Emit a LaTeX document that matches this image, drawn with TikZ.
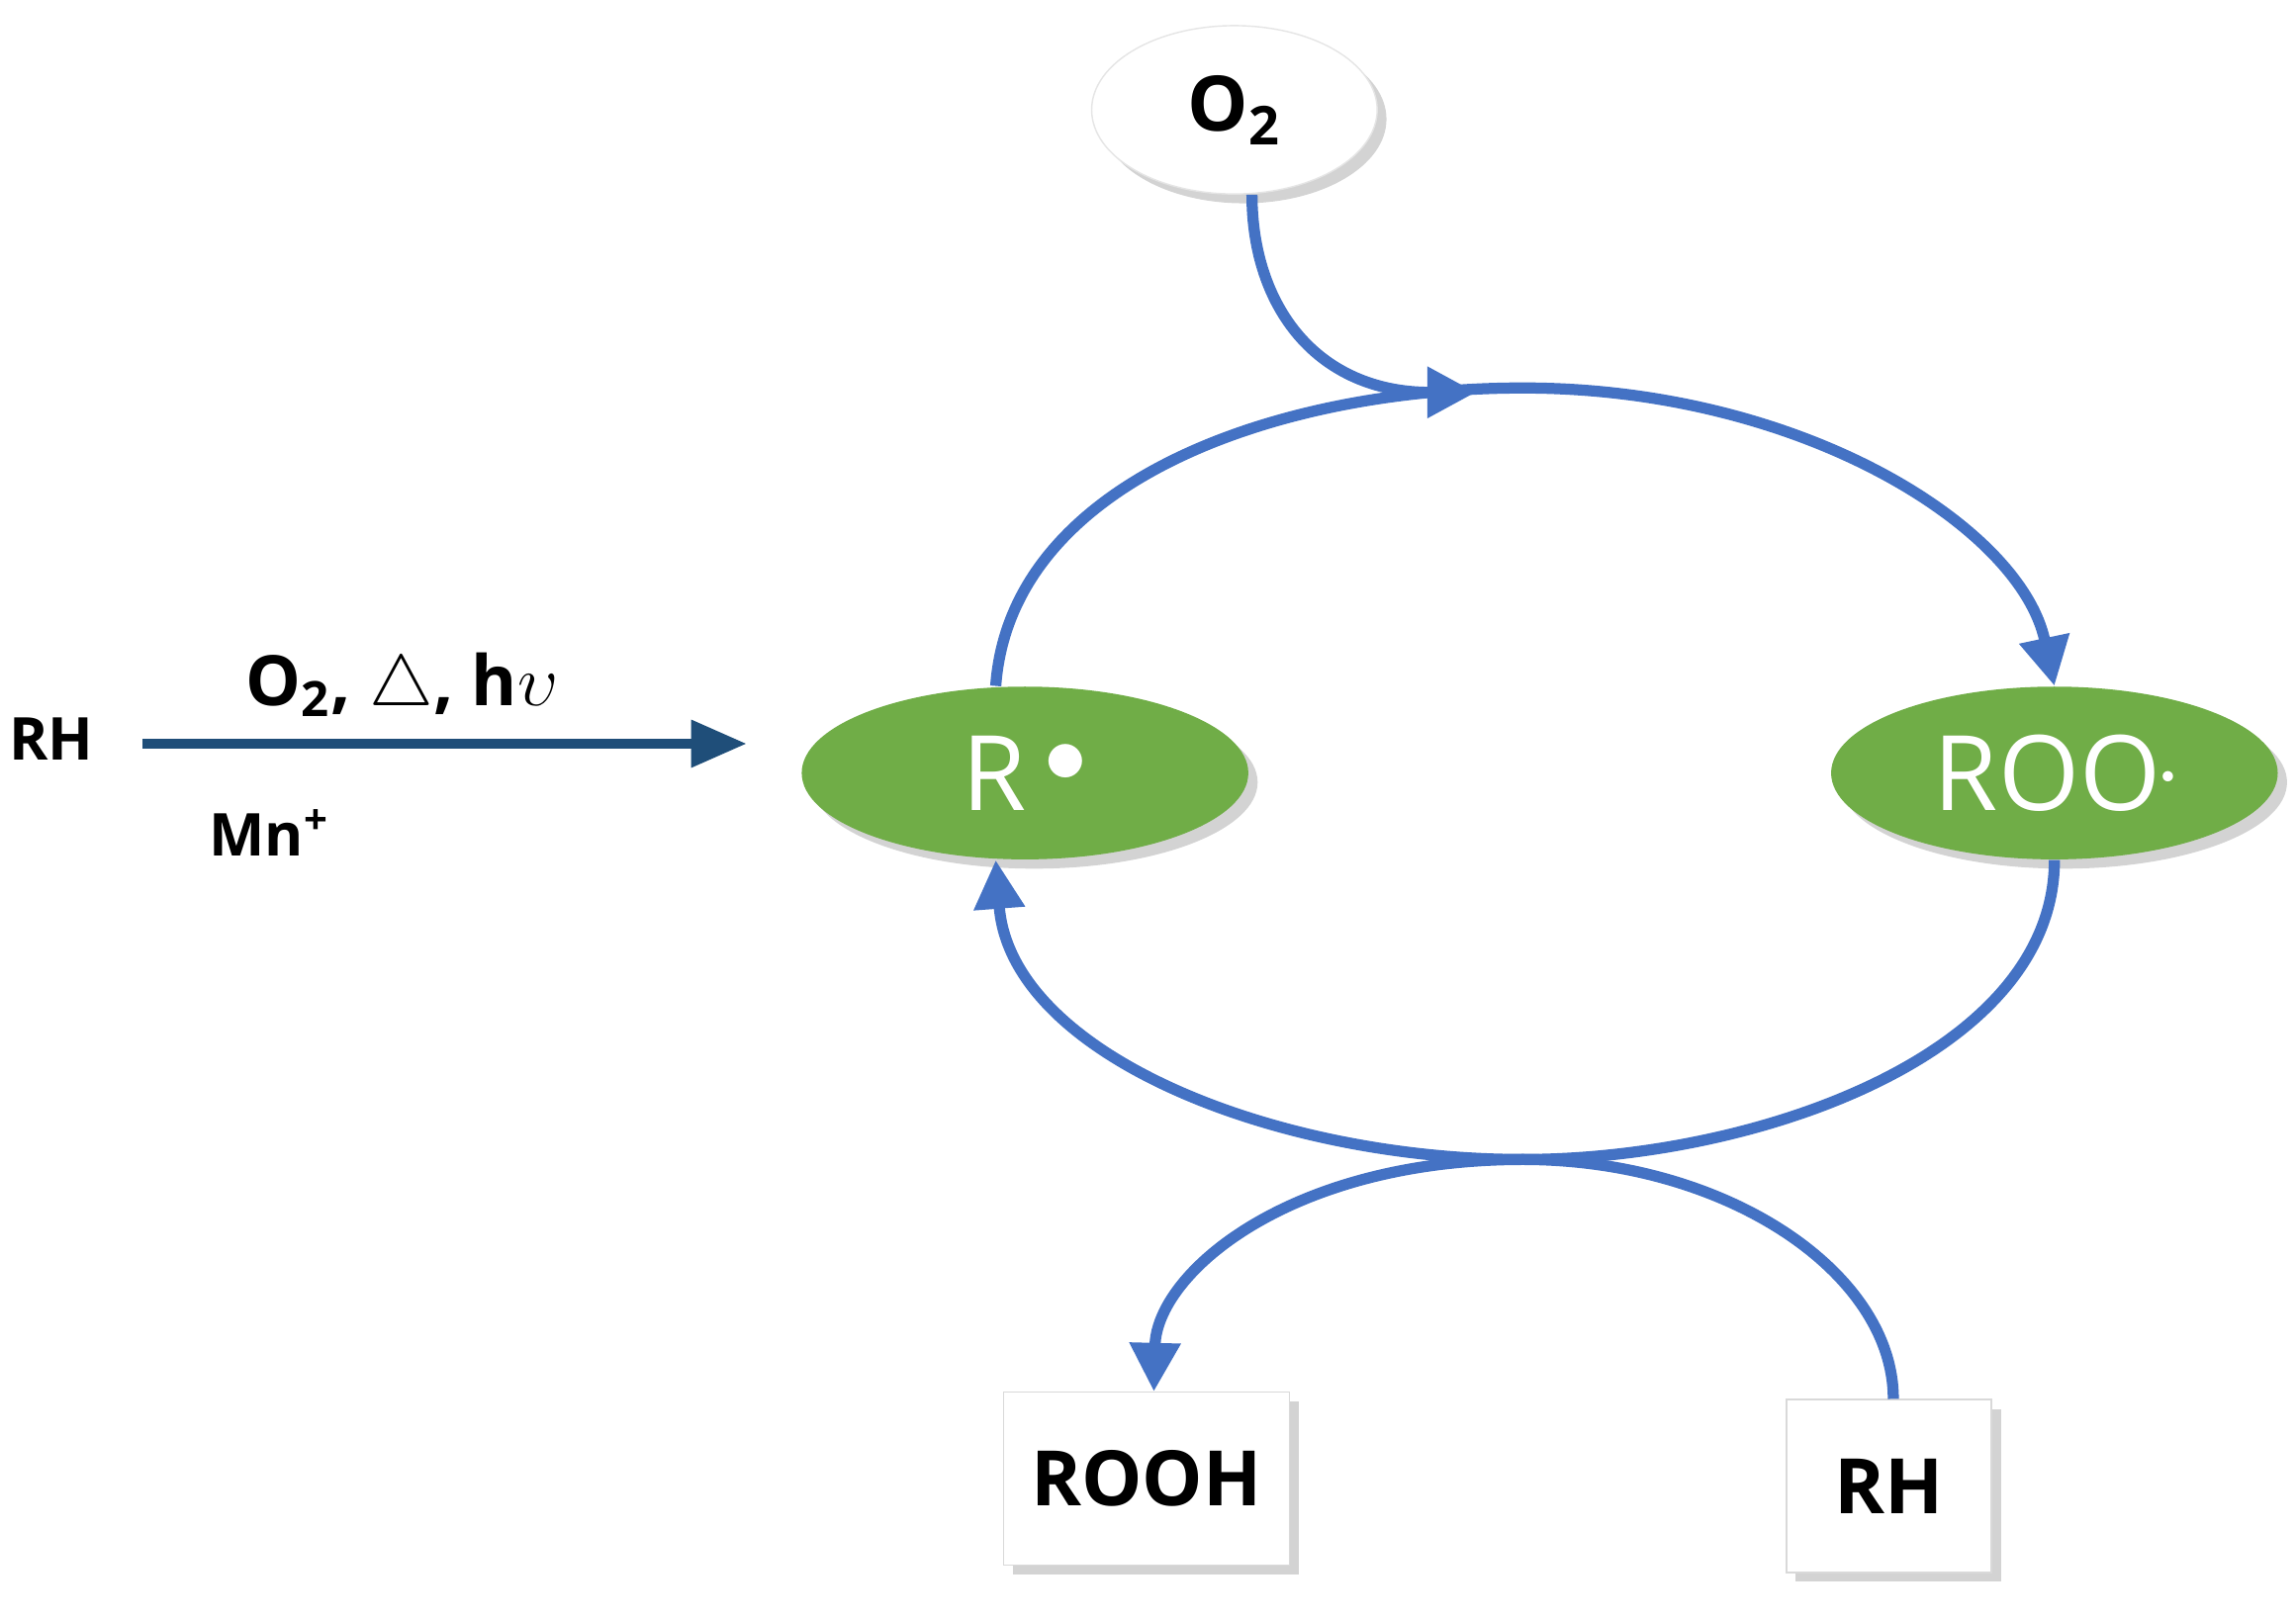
\documentclass[tikz,border=0pt]{standalone}
\usepackage{fontspec}
\setmainfont{Open Sans}
\usetikzlibrary{arrows.meta,shadows,shapes.geometric}
\definecolor{cycleblue}{RGB}{68,114,196}
\definecolor{darkblue}{RGB}{31,78,121}
\definecolor{leafgreen}{RGB}{112,173,71}
\newlength{\unitpx}
\setlength{\unitpx}{0.0148cm}
\tikzstyle{radical}=[ellipse,fill=leafgreen,minimum width=305\unitpx,minimum height=118\unitpx,text=white,font=\fontsize{30}{36}\selectfont,drop shadow={opacity=0.35}]
\tikzstyle{species}=[draw=gray!30,fill=white,font=\bfseries\fontsize{22}{26}\selectfont,drop shadow={opacity=0.35}]
\tikzstyle{cycle}=[draw=cycleblue,line width=3.2pt,-{Triangle[length=14pt,width=14pt]}]
\begin{document}
\begin{tikzpicture}[x=0.0148cm,y=-0.0148cm]
\useasboundingbox (0,0) rectangle (1568,1106);
\node[ellipse,fill=white,draw=gray!20,minimum width=195\unitpx,minimum height=115\unitpx,font=\bfseries\fontsize{22}{26}\selectfont,drop shadow={opacity=0.35}] (O2) at (843,75) {O\textsubscript{2}};
\node[radical] (R) at (700,528) {R\,\raisebox{0.5ex}{$\bullet$}};
\node[radical] (ROO) at (1403,528) {ROO\raisebox{0.5ex}{\scriptsize$\bullet$}};
\node[species,minimum width=195\unitpx,minimum height=118\unitpx] (ROOH) at (783,1010) {ROOH};
\node[species,minimum width=140\unitpx,minimum height=118\unitpx] (RHb) at (1290,1015) {RH};
\node[font=\bfseries\fontsize{17}{20}\selectfont] (RHa) at (35,505) {RH};
\coordinate (init) at (510,508);
\draw[draw=darkblue,line width=3pt,-{Triangle[length=16pt,width=13pt]}] ([xshift=25\unitpx,yshift=-3\unitpx]RHa.east) -- (init)
  node[pos=0.43,above=2pt,font=\bfseries\fontsize{20}{24}\selectfont]{O\textsubscript{2}, $\bigtriangleup$, h$\upsilon$}
  node[pos=0.21,below=14pt,font=\bfseries\fontsize{17}{20}\selectfont]{Mn\textsuperscript{+}};
% oxidation cycle
\coordinate (top) at (1040,265);
\coordinate (bot) at (1040,792);
\draw[cycle] ([xshift=-20\unitpx]R.north) .. controls (690,330) and (870,265) .. (top) .. controls (1230,265) and (1380,360) .. (ROO.north);
\draw[cycle] (ROO.south) .. controls (1403,720) and (1200,792) .. (bot) .. controls (870,792) and (690,720) .. ([xshift=-20\unitpx]R.south);
\draw[cycle] ([xshift=12\unitpx]O2.south) .. controls (855,210) and (900,268) .. (1008,268);
\draw[cycle] ([xshift=3\unitpx]RHb.north) .. controls (1293,870) and (1180,792) .. (bot) .. controls (880,792) and (790,870) .. ([xshift=5\unitpx]ROOH.north);
\end{tikzpicture}
\end{document}
